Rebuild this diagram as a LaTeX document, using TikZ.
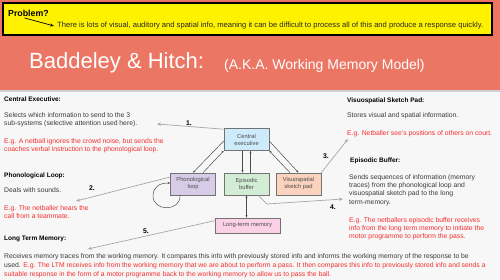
\documentclass[tikz,border=0pt]{standalone}
\usepackage{fontspec}
\setmainfont{Liberation Sans}
\usetikzlibrary{arrows.meta}
\definecolor{salmon}{HTML}{EC7664}
\definecolor{bgc}{HTML}{F7F7F7}
\definecolor{egred}{HTML}{F52E2E}
\definecolor{txt}{HTML}{3A3A3A}
\definecolor{cebl}{HTML}{CDEBFB}
\definecolor{phlav}{HTML}{D6CCE8}
\definecolor{ebgr}{HTML}{D3ECD6}
\definecolor{vspch}{HTML}{FAD2BE}
\definecolor{ltmpk}{HTML}{FCD0E6}
\tikzset{
  body/.style={font=\fontsize{6.8}{8.4}\selectfont, text=txt, inner sep=0, anchor=north west, align=left},
  eg/.style={body, text=egred},
  head/.style={font=\bfseries\fontsize{6.5}{8.4}\selectfont, text=black, inner sep=0, anchor=north west},
  box/.style={draw=black!55, line width=0.6, minimum width=45, minimum height=22, inner sep=0, align=center,
              font=\fontsize{5.8}{7}\selectfont, text=black!70},
  conn/.style={draw=black!70, line width=0.5, -{Stealth[length=2.6pt,width=2pt]}},
  garrow/.style={draw=black!35, line width=0.7, -{Stealth[length=4pt,width=3.2pt]}},
  num/.style={font=\bfseries\fontsize{6.8}{8}\selectfont, text=black, inner sep=0}
}
\begin{document}
\begin{tikzpicture}[x=1pt,y=-1pt]
\useasboundingbox (0,0) rectangle (500,280);
\fill[bgc] (0,0) rectangle (500,280);
\fill[black!18] (0,90) rectangle (500,91.6);
\fill[salmon] (0,0) rectangle (500,90);

% problem box
\node[draw=black, line width=1.3, fill=yellow, minimum width=489, minimum height=32, inner sep=0] (probbox) at (247.5,19) {};
\node[font=\bfseries\fontsize{8.8}{10}\selectfont, inner sep=0, anchor=west] (prob) at (8,13) {Problem?};
\node[font=\fontsize{7.6}{8}\selectfont, text=black!85, inner sep=0, anchor=west] (probtext) at (57,26)
  {There is lots of visual, auditory and spatial info, meaning it can be difficult to process all of this and produce a response quickly.};
\draw[black, line width=0.7, -{Stealth[length=4pt,width=3pt]}] ([xshift=-4pt,yshift=-1.5pt]prob.south) -- ([xshift=-3pt]probtext.west);

% title
\node[font=\fontsize{22}{26}\selectfont, text=white, inner sep=0, anchor=west] (title) at (29,63) {Baddeley \& Hitch:};
\node[font=\fontsize{14}{16}\selectfont, text=white, inner sep=0, anchor=west] (subtitle) at (224,66) {(A.K.A. Working Memory Model)};

% left texts
\node[head] (ceh) at (4,97) {Central Executive:};
\node[body] (ced) at (4,112) {Selects which information to send to the 3\\sub-systems (selective attention used here).};
\node[eg] (cee) at (4,138) {E.g. A netball ignores the crowd noise, but sends the\\coaches verbal instruction to the phonological loop.};
\node[head] (plh) at (4,173) {Phonological Loop:};
\node[body] (pld) at (4,187) {Deals with sounds.};
\node[eg] (ple) at (4,205) {E.g. The netballer hears the\\call from a teammate.};
\node[head] (ltmh) at (4,236) {Long Term Memory:};
\node[body, font=\fontsize{6.8}{9}\selectfont] (ltmd) at (4,253)
 {Receives memory traces from the working memory. It compares this info with previously stored info and informs the working memory of the response to be\\
  used. \textcolor{egred}{E.g. The LTM receives info from the working memory that we are about to perform a pass. It then compares this info to previously stored info and sends a}\\
  \textcolor{egred}{suitable response in the form of a motor programme back to the working memory to allow us to pass the ball.}};

% right texts
\node[head] (vsh) at (347,98) {Visuospatial Sketch Pad:};
\node[body] (vsd) at (347,112) {Stores visual and spatial information.};
\node[eg] (vse) at (347,130) {E.g. Netballer see's positions of others on court.};
\node[head] (ebh) at (350,158) {Episodic Buffer:};
\node[body] (ebd) at (349,174) {Sends sequences of information (memory\\traces) from the phonological loop and\\visuospatial sketch pad to the long\\term-memory.};
\node[eg] (ebe) at (349,217) {E.g. The netballers episodic buffer receives\\info from the long term memory to initiate the\\motor programme to perform the pass.};

% boxes
\node[box, fill=cebl] (ce) at (246.5,139.5) {Central\\executive};
\node[box, fill=phlav] (phon) at (193,184) {Phonological\\loop};
\node[box, fill=ebgr] (eb) at (246.5,184) {Episodic\\buffer};
\node[box, fill=vspch] (vs) at (298.5,184) {Visuospatial\\sketch pad};
\node[box, fill=ltmpk, minimum width=65, minimum height=15] (ltm) at (247.5,225.5) {Long-term memory};

% connections between boxes
\draw[conn] ([yshift=-1.5pt]ce.west) -- (phon.north);
\draw[conn] ([xshift=10pt]phon.north) -- (ce.south west);
\draw[conn] ([xshift=-4pt]ce.south) -- ([xshift=-4pt]eb.north);
\draw[conn] ([xshift=4pt]eb.north) -- ([xshift=4pt]ce.south);
\draw[conn] ([yshift=-1.5pt]ce.east) -- (vs.north);
\draw[conn] ([xshift=-8.5pt]vs.north) -- (ce.south east);
\draw[conn, {Stealth[length=2.6pt,width=2pt]}-{Stealth[length=2.6pt,width=2pt]}] (eb.south) -- (eb.south |- ltm.north);
\draw[conn] ([xshift=-13pt]phon.south) .. controls (181,212) and (152,212) .. (153,195)
   .. controls (154,186) and (160,183) .. ([yshift=1pt]phon.west);

% numbered pointers
\coordinate (a1) at (157,124);
\coordinate (a2) at (76,201);
\coordinate (a3) at (348,139);
\coordinate (k4) at (267,204);
\coordinate (a4) at (343,199);
\coordinate (a5) at (88,249);
\draw[garrow] ([yshift=-1pt]ce.north west) -- (a1);
\draw[garrow] ([yshift=7pt]phon.west) -- (a2);
\draw[garrow] (vs.north east) -- (a3);
\draw[garrow] ([xshift=11.5pt]eb.south) -- (k4) -- (a4);
\draw[garrow] ([yshift=-3pt]ltm.north west) -- (a5);
\node[num] (n1) at (189,123) {1.};
\node[num] (n2) at (92,188) {2.};
\node[num] (n3) at (326,156) {3.};
\node[num] (n4) at (333,207) {4.};
\node[num] (n5) at (146,231) {5.};
\end{tikzpicture}
\end{document}
